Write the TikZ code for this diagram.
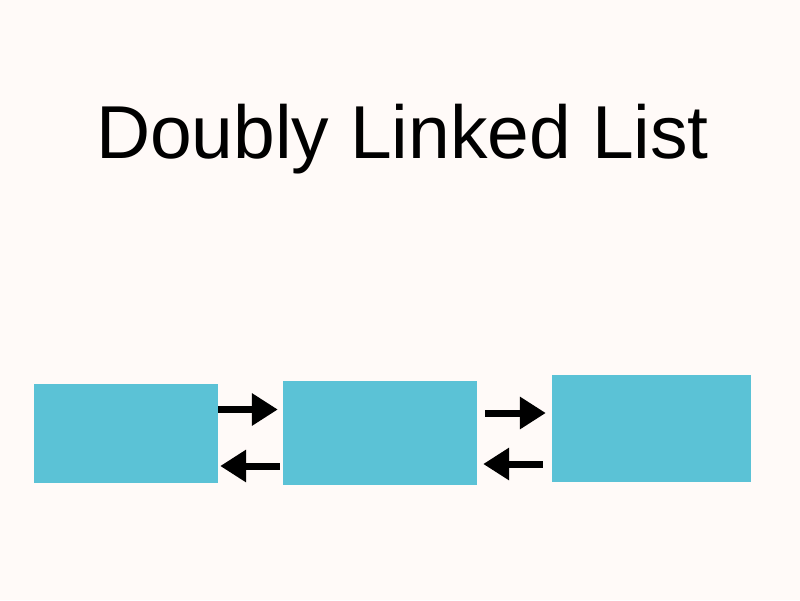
\documentclass[tikz,border=0pt]{standalone}
\usepackage{fontspec}
\setmainfont{Liberation Sans}
\usetikzlibrary{arrows.meta}
\definecolor{bgc}{RGB}{255,250,248}
\definecolor{boxc}{RGB}{91,194,214}
\begin{document}
\begin{tikzpicture}[x=1pt,y=-1pt,
  listbox/.style={fill=boxc,draw=none,inner sep=0pt,minimum width=#1},
  arr/.style={line width=7pt,draw=black,-{Triangle[length=26pt,width=31pt]}}]
\fill[bgc] (0,0) rectangle (800,600);
\useasboundingbox (0,0) rectangle (800,600);
\node[anchor=base,font=\fontsize{75}{80}\selectfont,inner sep=0pt] (title) at (402.5,158) {Doubly Linked List};
\node[listbox=184pt,minimum height=99pt] (b1) at (126,433.5) {};
\node[listbox=194pt,minimum height=104pt] (b2) at (380,433) {};
\node[listbox=199pt,minimum height=107pt] (b3) at (651.5,428.5) {};
\draw[arr] (b1.east |- 0,409.5) -- ([xshift=-5pt]b2.west |- 0,409.5);
\draw[arr] ([xshift=-3pt]b2.west |- 0,466) -- ([xshift=2pt]b1.east |- 0,466);
\draw[arr] ([xshift=8pt]b2.east |- 0,413) -- ([xshift=-6pt]b3.west |- 0,413);
\draw[arr] ([xshift=-9pt]b3.west |- 0,464) -- ([xshift=6pt]b2.east |- 0,464);
\end{tikzpicture}
\end{document}
